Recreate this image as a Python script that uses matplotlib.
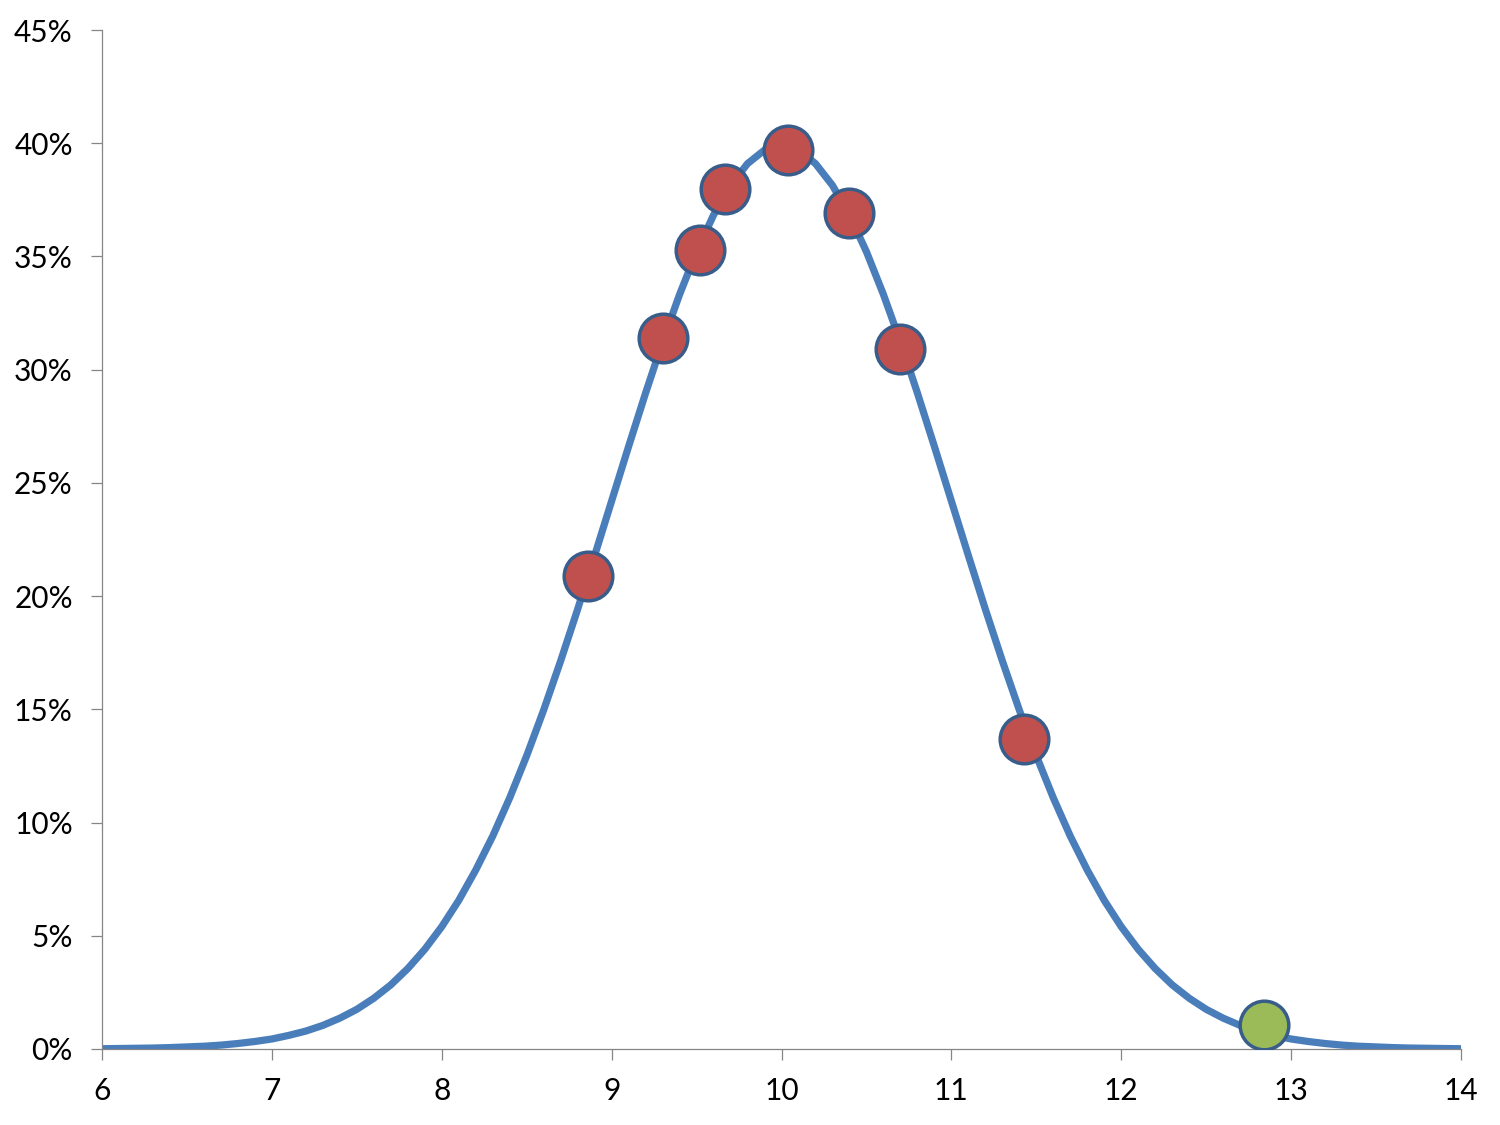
import matplotlib
matplotlib.use('Agg')
import matplotlib.pyplot as plt
from matplotlib.ticker import FuncFormatter

# curve, every 0.1 on x
curve_x = [6.0, 6.1, 6.2, 6.3, 6.4, 6.5, 6.6, 6.7, 6.8, 6.9,
           7.0, 7.1, 7.2, 7.3, 7.4, 7.5, 7.6, 7.7, 7.8, 7.9,
           8.0, 8.1, 8.2, 8.3, 8.4, 8.5, 8.6, 8.7, 8.8, 8.9,
           9.0, 9.1, 9.2, 9.3, 9.4, 9.5, 9.6, 9.7, 9.8, 9.9,
           10.0, 10.1, 10.2, 10.3, 10.4, 10.5, 10.6, 10.7, 10.8, 10.9,
           11.0, 11.1, 11.2, 11.3, 11.4, 11.5, 11.6, 11.7, 11.8, 11.9,
           12.0, 12.1, 12.2, 12.3, 12.4, 12.5, 12.6, 12.7, 12.8, 12.9,
           13.0, 13.1, 13.2, 13.3, 13.4, 13.5, 13.6, 13.7, 13.8, 13.9, 14.0]
curve_y = [0.0001, 0.0002, 0.0003, 0.0004, 0.0006, 0.0009, 0.0012, 0.0017, 0.0024, 0.0033,
           0.0044, 0.0060, 0.0079, 0.0104, 0.0136, 0.0175, 0.0224, 0.0283, 0.0355, 0.0440,
           0.0540, 0.0656, 0.0790, 0.0940, 0.1109, 0.1295, 0.1497, 0.1714, 0.1942, 0.2179,
           0.2420, 0.2661, 0.2897, 0.3123, 0.3332, 0.3521, 0.3683, 0.3814, 0.3910, 0.3970,
           0.3989, 0.3970, 0.3910, 0.3814, 0.3683, 0.3521, 0.3332, 0.3123, 0.2897, 0.2661,
           0.2420, 0.2179, 0.1942, 0.1714, 0.1497, 0.1295, 0.1109, 0.0940, 0.0790, 0.0656,
           0.0540, 0.0440, 0.0355, 0.0283, 0.0224, 0.0175, 0.0136, 0.0104, 0.0079, 0.0060,
           0.0044, 0.0033, 0.0024, 0.0017, 0.0012, 0.0009, 0.0006, 0.0004, 0.0003, 0.0002, 0.0001]

# red samples
red_x = [8.86, 9.30, 9.52, 9.67, 10.04, 10.40, 10.70, 11.43]
red_y = [0.209, 0.314, 0.353, 0.380, 0.397, 0.369, 0.309, 0.137]

# green outlier
green_x = [12.84]
green_y = [0.0106]

plt.rcParams['font.family'] = ['Lato', 'DejaVu Sans']

fig = plt.figure(figsize=(15, 11.25), dpi=100)
ax = fig.add_axes([0.068, 0.0676, 0.906, 0.9057])

ax.plot(curve_x, curve_y, color='#4a7ebb', linewidth=5.2, solid_joinstyle='round', zorder=2)
ax.plot(red_x, red_y, linestyle='none', marker='o', markersize=35,
        markerfacecolor='#c0504d', markeredgecolor='#385d8a', markeredgewidth=2.5, zorder=3)
ax.plot(green_x, green_y, linestyle='none', marker='o', markersize=35,
        markerfacecolor='#9bbb59', markeredgecolor='#385d8a', markeredgewidth=2.5, zorder=3)

ax.set_xlim(6, 14)
ax.set_ylim(0, 0.45)
ax.set_xticks(range(6, 15))
ax.set_yticks([i * 0.05 for i in range(10)])
ax.yaxis.set_major_formatter(FuncFormatter(lambda v, p: '%d%%' % round(v * 100)))

for s in ['top', 'right']:
    ax.spines[s].set_visible(False)
for s in ['left', 'bottom']:
    ax.spines[s].set_color('#868686')
    ax.spines[s].set_linewidth(0.9)

ax.tick_params(axis='both', direction='out', length=8, width=0.9, color='#868686',
               labelsize=21.5, labelcolor='black')
ax.tick_params(axis='y', pad=13)
ax.tick_params(axis='x', pad=12)

fig.savefig('out.png', dpi=100)
